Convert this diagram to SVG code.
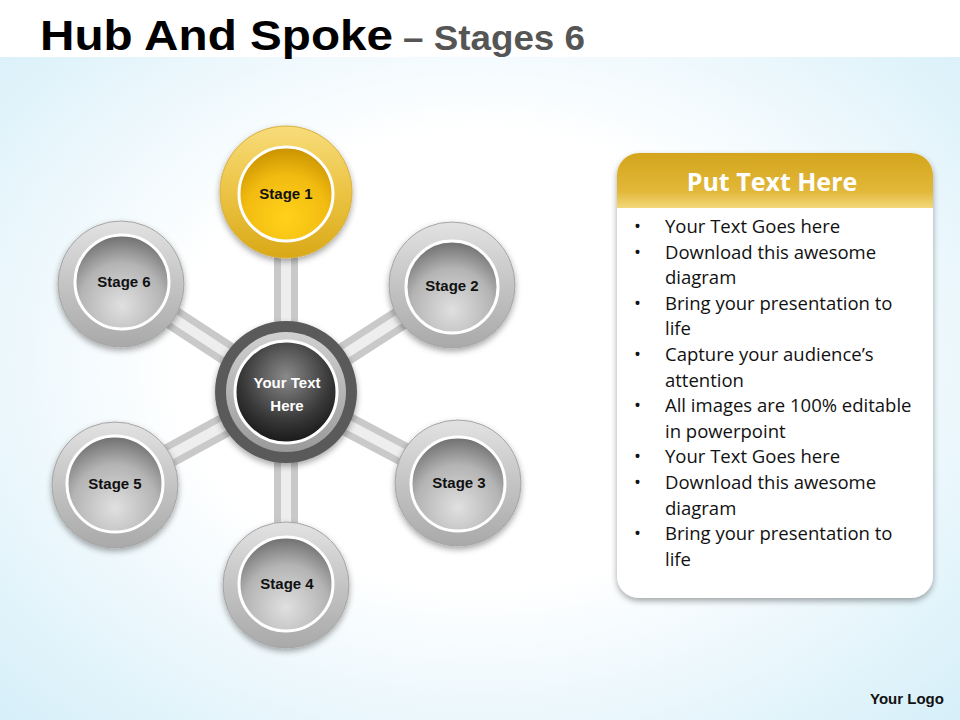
<svg xmlns="http://www.w3.org/2000/svg" width="960" height="720" viewBox="0 0 960 720">
<defs>
<radialGradient id="bg" cx="0.5" cy="0.5" r="0.7">
<stop offset="0.45" stop-color="#ffffff"/>
<stop offset="1" stop-color="#d6eff9"/>
</radialGradient>
<linearGradient id="ringG" x1="0" y1="0" x2="0" y2="1">
<stop offset="0" stop-color="#e2e2e2"/>
<stop offset="0.5" stop-color="#c4c4c4"/>
<stop offset="1" stop-color="#a9a9a9"/>
</linearGradient>
<radialGradient id="innerG" cx="0.5" cy="0.75" r="0.75">
<stop offset="0" stop-color="#e0e0e0"/>
<stop offset="0.6" stop-color="#b4b4b4"/>
<stop offset="1" stop-color="#6e6e6e"/>
</radialGradient>
<linearGradient id="goldRing" x1="0" y1="0" x2="0" y2="1">
<stop offset="0" stop-color="#f7dc7a"/>
<stop offset="0.5" stop-color="#ecc444"/>
<stop offset="1" stop-color="#d9a817"/>
</linearGradient>
<radialGradient id="goldInner" cx="0.5" cy="0.75" r="0.75">
<stop offset="0" stop-color="#ffd21a"/>
<stop offset="0.6" stop-color="#f2bb10"/>
<stop offset="1" stop-color="#c99200"/>
</radialGradient>
<radialGradient id="hubInner" cx="0.5" cy="0.35" r="0.7">
<stop offset="0" stop-color="#8a8a8a"/>
<stop offset="0.6" stop-color="#3a3a3a"/>
<stop offset="1" stop-color="#111111"/>
</radialGradient>
<linearGradient id="hubRing" x1="0" y1="0" x2="0" y2="1">
<stop offset="0" stop-color="#d0d0d0"/>
<stop offset="1" stop-color="#9a9a9a"/>
</linearGradient>
<linearGradient id="head" x1="0" y1="0" x2="0" y2="1">
<stop offset="0" stop-color="#d4a51c"/>
<stop offset="0.7" stop-color="#e2b83a"/>
<stop offset="1" stop-color="#f3d77a"/>
</linearGradient>
<filter id="sh" x="-20%" y="-20%" width="140%" height="140%">
<feDropShadow dx="0" dy="3" stdDeviation="3" flood-color="#000" flood-opacity="0.35"/>
</filter>
<clipPath id="panelClip"><rect x="617" y="153" width="316" height="445" rx="22"/></clipPath>
</defs>
<style>
.lbl{font-family:"Liberation Sans",Arial,sans-serif;font-weight:bold;font-size:15px;fill:#111;text-anchor:middle}
.hub{font-family:"Liberation Sans",Arial,sans-serif;font-weight:bold;font-size:15px;fill:#fff;text-anchor:middle}
.body{font-family:"Open Sans","Liberation Sans",sans-serif;font-size:18.5px;fill:#111}
.spokeA{stroke:#c9c9c9;stroke-width:24;stroke-linecap:butt}
.spokeB{stroke:#eeeeee;stroke-width:10;stroke-linecap:butt}
.ring{fill:url(#ringG);stroke:#a5a5a5;stroke-width:1}
.inner{fill:url(#innerG);stroke:#ffffff;stroke-width:3}
</style>
<rect x="0" y="0" width="960" height="720" fill="url(#bg)"/>
<rect x="0" y="0" width="960" height="57" fill="#ffffff"/>
<text x="40" y="50" font-family="Liberation Sans,Arial,sans-serif" font-weight="bold" font-size="42" fill="#000" textLength="353" lengthAdjust="spacingAndGlyphs">Hub And Spoke</text>
<text x="403" y="50" font-family="Liberation Sans,Arial,sans-serif" font-weight="bold" font-size="35" fill="#555" textLength="182" lengthAdjust="spacingAndGlyphs">– Stages 6</text>

<g id="connectors">
<line class="spokeA" x1="286" y1="392" x2="286" y2="192"/>
<line class="spokeA" x1="286" y1="392" x2="452" y2="285"/>
<line class="spokeA" x1="286" y1="392" x2="458" y2="483"/>
<line class="spokeA" x1="286" y1="392" x2="286" y2="585"/>
<line class="spokeA" x1="286" y1="392" x2="115" y2="485"/>
<line class="spokeA" x1="286" y1="392" x2="121" y2="284"/>
<line class="spokeB" x1="286" y1="392" x2="286" y2="192"/>
<line class="spokeB" x1="286" y1="392" x2="452" y2="285"/>
<line class="spokeB" x1="286" y1="392" x2="458" y2="483"/>
<line class="spokeB" x1="286" y1="392" x2="286" y2="585"/>
<line class="spokeB" x1="286" y1="392" x2="115" y2="485"/>
<line class="spokeB" x1="286" y1="392" x2="121" y2="284"/>
</g>

<g id="hub">
<circle cx="286" cy="392" r="71" fill="#5a5a5a" filter="url(#sh)"/>
<circle cx="286" cy="392" r="60" fill="url(#hubRing)"/>
<circle cx="286" cy="392" r="51" fill="url(#hubInner)" stroke="#ffffff" stroke-width="3"/>
<text class="hub" x="287" y="388">Your Text</text>
<text class="hub" x="287" y="411">Here</text>
</g>

<g id="stage1">
<circle cx="286" cy="192" r="66" fill="url(#goldRing)" stroke="#d8b040" stroke-width="1" filter="url(#sh)"/>
<circle cx="286" cy="194" r="47" fill="url(#goldInner)" stroke="#ffffff" stroke-width="3"/>
<text class="lbl" x="286" y="199">Stage 1</text>
</g>
<g id="stage2">
<circle class="ring" cx="452" cy="285" r="63" filter="url(#sh)"/>
<circle class="inner" cx="452" cy="287" r="46"/>
<text class="lbl" x="452" y="291">Stage 2</text>
</g>
<g id="stage3">
<circle class="ring" cx="458" cy="483" r="63" filter="url(#sh)"/>
<circle class="inner" cx="458" cy="484" r="47"/>
<text class="lbl" x="459" y="488">Stage 3</text>
</g>
<g id="stage4">
<circle class="ring" cx="286" cy="585" r="63" filter="url(#sh)"/>
<circle class="inner" cx="286" cy="584" r="47"/>
<text class="lbl" x="287" y="589">Stage 4</text>
</g>
<g id="stage5">
<circle class="ring" cx="115" cy="485" r="63" filter="url(#sh)"/>
<circle class="inner" cx="115" cy="484" r="48"/>
<text class="lbl" x="115" y="489">Stage 5</text>
</g>
<g id="stage6">
<circle class="ring" cx="121" cy="284" r="63" filter="url(#sh)"/>
<circle class="inner" cx="122" cy="282" r="47"/>
<text class="lbl" x="124" y="287">Stage 6</text>
</g>

<g id="panel">
<rect x="617" y="153" width="316" height="445" rx="22" fill="#ffffff" filter="url(#sh)"/>
<rect x="617" y="153" width="316" height="55" fill="url(#head)" clip-path="url(#panelClip)"/>
<text x="772" y="191" font-family="Open Sans,Liberation Sans,sans-serif" font-weight="bold" font-size="25" fill="#ffffff" text-anchor="middle">Put Text Here</text>
<g class="body">
<text x="634" y="233">•</text><text x="665" y="233">Your Text Goes here</text>
<text x="634" y="259">•</text><text x="665" y="259">Download this awesome</text>
<text x="665" y="284">diagram</text>
<text x="634" y="310">•</text><text x="665" y="310">Bring your presentation to</text>
<text x="665" y="335">life</text>
<text x="634" y="361">•</text><text x="665" y="361">Capture your audience’s</text>
<text x="665" y="387">attention</text>
<text x="634" y="412">•</text><text x="665" y="412">All images are 100% editable</text>
<text x="665" y="438">in powerpoint</text>
<text x="634" y="463">•</text><text x="665" y="463">Your Text Goes here</text>
<text x="634" y="489">•</text><text x="665" y="489">Download this awesome</text>
<text x="665" y="515">diagram</text>
<text x="634" y="540">•</text><text x="665" y="540">Bring your presentation to</text>
<text x="665" y="566">life</text>
</g>
</g>

<text x="907" y="704" font-family="Liberation Sans,Arial,sans-serif" font-weight="bold" font-size="15" fill="#111" text-anchor="middle">Your Logo</text>
</svg>
